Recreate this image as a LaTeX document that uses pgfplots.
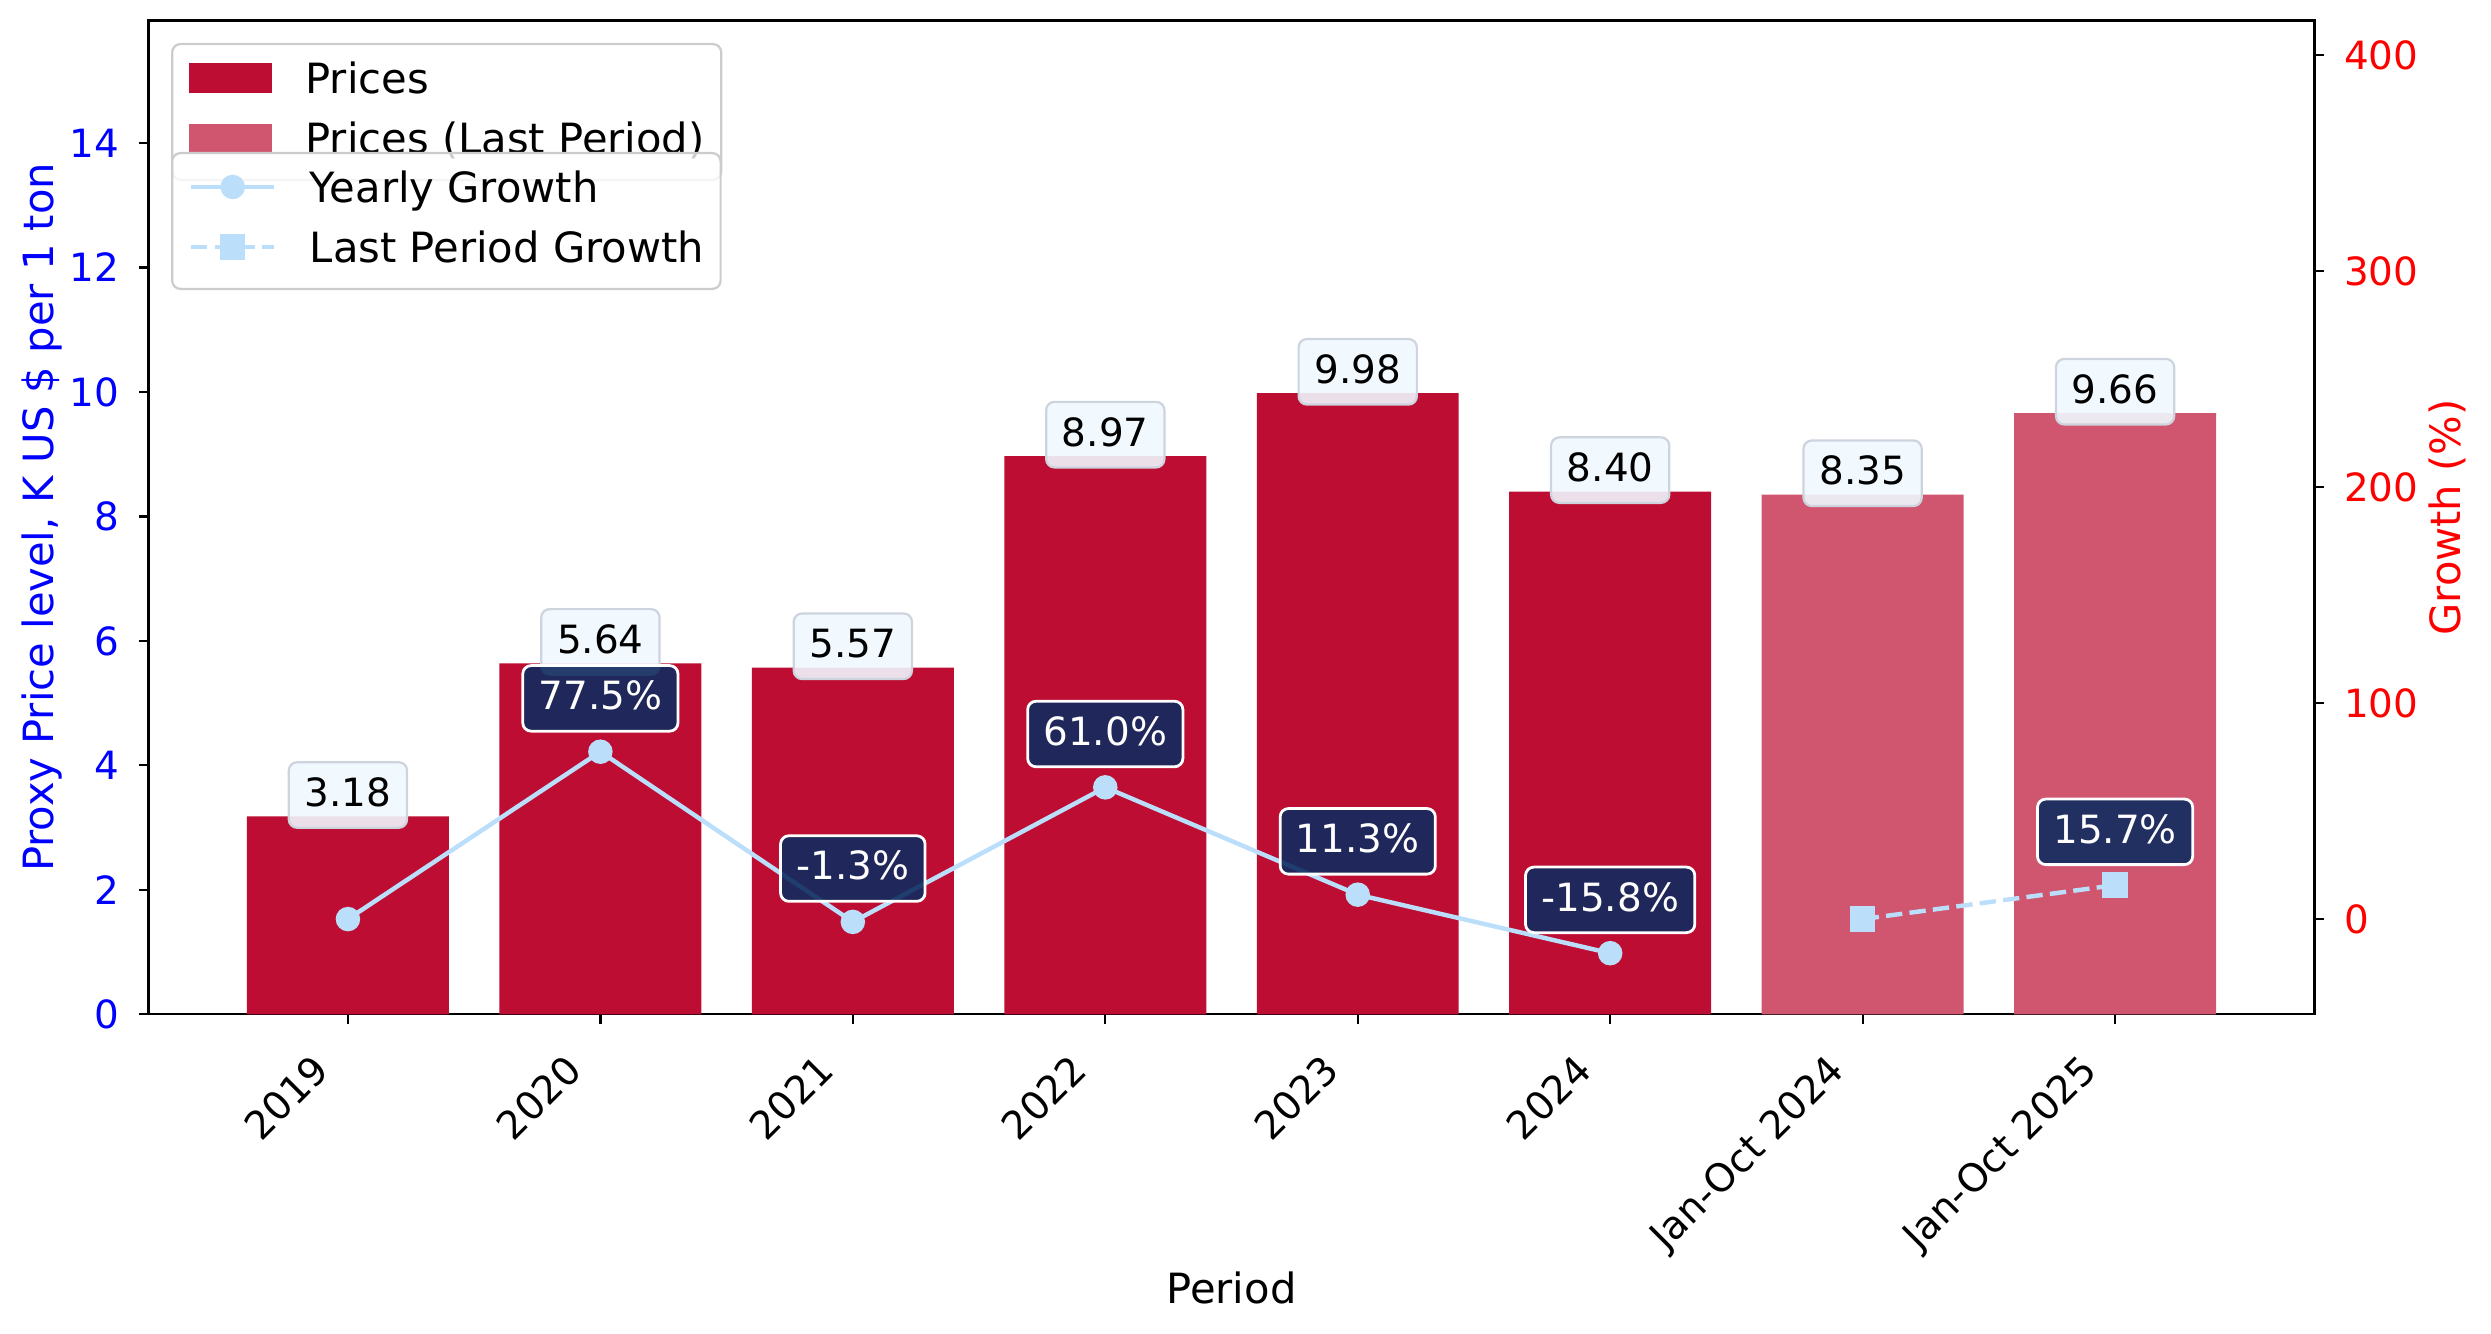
\documentclass[border=0pt]{standalone}
\usepackage{pgfplots}
\pgfplotsset{compat=1.18}
\usepackage{pgfplotstable}
\usepackage{fontspec}
\setmainfont{DejaVu Sans}
\newcommand\fs{\fontsize{14pt}{16.8pt}\selectfont}
\newcommand\fl{\fontsize{15pt}{18pt}\selectfont}
\definecolor{barred}{RGB}{189,13,50}
\definecolor{barlight}{RGB}{208,85,110}
\definecolor{growthblue}{RGB}{187,222,251}
\definecolor{navybox}{RGB}{16,44,96}
\definecolor{aliceb}{RGB}{240,248,255}
\definecolor{boxedge}{RGB}{205,212,222}
\definecolor{legedge}{RGB}{204,204,204}

\pgfplotstableread{
x y
0 3.18
1 5.64
2 5.57
3 8.97
4 9.98
5 8.40
}\prices
\pgfplotstableread{
x y
6 8.35
7 9.66
}\priceslast
\pgfplotstableread{
x y
0 0
1 77.5
2 -1.3
3 61.0
4 11.3
5 -15.8
}\growth
\pgfplotstableread{
x y
6 0
7 15.7
}\growthlast

\tikzset{
  vbox/.style={fill=aliceb, fill opacity=0.9, text opacity=1, draw=boxedge, line width=0.8pt,
    rounded corners=3pt, inner xsep=5.7pt, inner ysep=4.5pt, text height=11.4pt, text depth=3.2pt,
    font=\fs, anchor=base, yshift=3.6pt},
  gbox/.style={fill=navybox, fill opacity=0.9, text opacity=1, draw=white, line width=1pt,
    rounded corners=3pt, inner xsep=5.7pt, inner ysep=4.5pt, text height=11.4pt, text depth=3.2pt,
    font=\fs, text=white, anchor=base, yshift=15.1pt},
}
\pgfplotsset{
  barleg/.style={legend image code/.code={\fill[##1, sharp corners, fill opacity=1, draw=none] (0pt,-3.85pt) rectangle (30pt,6.65pt);}},
  lineleg/.style={legend image code/.code={\draw[mark repeat=2, mark phase=2, sharp corners, fill opacity=1, ##1] plot coordinates {(0pt,1.4pt) (15pt,1.4pt) (30pt,1.4pt)};}},
  mylegend/.style={legend cell align=left, legend style={anchor=north west, draw=legedge, line width=0.8pt,
    rounded corners=3pt, fill=white, fill opacity=0.8, text opacity=1, inner xsep=6pt, inner ysep=6.5pt,
    font=\fl, row sep=7.5pt, column sep=12pt, nodes={inner sep=0pt, text height=11.2pt, text depth=3.0pt}}},
  common/.style={at={(53.46pt,114.73pt)}, anchor=south west, scale only axis,
    width=779.76pt, height=357.77pt, xmin=-0.79, xmax=7.79,
    tick align=outside, major tick length=3.5pt,
    every tick/.style={black, line width=0.8pt},
    axis line style={line width=0.8pt},
    /pgf/number format/assume math mode=true},
}

\begin{document}
\begin{tikzpicture}[font=\fs]
\useasboundingbox (0,0) rectangle (896.76pt,479.88pt);
\begin{axis}[common,
  ymin=0, ymax=15.968,
  xtick={0,...,7},
  xticklabels={2019,2020,2021,2022,2023,2024,Jan-Oct 2024,Jan-Oct 2025},
  ytick={0,2,...,14},
  xtick pos=left, ytick pos=left,
  xticklabel style={inner sep=0pt, anchor=base east, xshift=-5.8pt, yshift=-17.3pt, rotate=45, font=\fs},
  yticklabel style={inner sep=0pt, anchor=east, xshift=-7pt, font=\fs, text=blue},
  xlabel={Period},
  xlabel style={at={(axis description cs:0.5,-0.2905)}, anchor=base, font=\fl},
  ylabel={Proxy Price level, K US \$ per 1 ton},
  ylabel style={at={(axis description cs:-0.0439,0.5)}, anchor=base, font=\fl, text=blue},
  mylegend, legend style={at={(0.0104,0.9774)}},
]
\addplot[ybar, bar width=0.8, bar shift=0pt, fill=barred, draw=none, barleg] table {\prices};
\addlegendentry{Prices}
\addplot[ybar, bar width=0.8, bar shift=0pt, fill=barlight, draw=none, barleg] table {\priceslast};
\addlegendentry{Prices (Last Period)}
\node[vbox] at (axis cs:0,3.18) {3.18};
\node[vbox] at (axis cs:1,5.64) {5.64};
\node[vbox] at (axis cs:2,5.57) {5.57};
\node[vbox] at (axis cs:3,8.97) {8.97};
\node[vbox] at (axis cs:4,9.98) {9.98};
\node[vbox] at (axis cs:5,8.40) {8.40};
\node[vbox] at (axis cs:6,8.35) {8.35};
\node[vbox] at (axis cs:7,9.66) {9.66};
\end{axis}
\begin{axis}[common,
  ymin=-44.1, ymax=416.1,
  axis x line=none, axis y line*=right,
  ytick={0,100,...,400},
  yticklabel style={inner sep=0pt, anchor=west, xshift=7pt, font=\fs, text=red},
  ylabel={Growth (\%)},
  ylabel style={at={(axis description cs:1.0672,0.5)}, anchor=base, font=\fl, text=red},
  mylegend, legend style={at={(0.0104,0.8677)}},
]
\addplot[color=growthblue, line width=1.6pt, mark=*, mark size=3.6pt,
  mark options={solid, fill=growthblue, draw=none}, lineleg] table {\growth};
\addlegendentry{Yearly Growth}
\addplot[color=growthblue, line width=1.6pt, dash pattern=on 5.9pt off 2.6pt, mark=square*, mark size=3.8pt,
  mark options={solid, fill=growthblue, draw=none}, lineleg] table {\growthlast};
\addlegendentry{Last Period Growth}
\node[gbox] at (axis cs:1,77.5) {77.5\%};
\node[gbox] at (axis cs:2,-1.3) {-1.3\%};
\node[gbox] at (axis cs:3,61.0) {61.0\%};
\node[gbox] at (axis cs:4,11.3) {11.3\%};
\node[gbox] at (axis cs:5,-15.8) {-15.8\%};
\node[gbox] at (axis cs:7,15.7) {15.7\%};
\end{axis}
\end{tikzpicture}
\end{document}
